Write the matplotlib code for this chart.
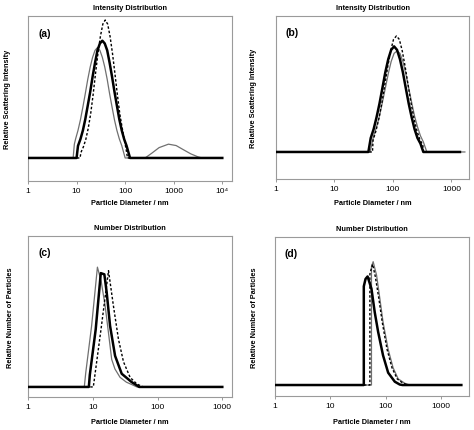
import matplotlib
matplotlib.use("Agg")
import matplotlib.pyplot as plt

plt.rcParams['font.family'] = ['Liberation Sans', 'DejaVu Sans']

# ---- (a) intensity distribution (dashed peak = 100)
a_thick_d = [1, 10, 10.7, 12.0, 13.5, 15.1, 17.0, 19.1, 21.4, 24.0, 26.9, 30.2, 33.9, 38.0, 42.7,
             47.9, 53.7, 60.3, 67.6, 75.9, 85.1, 95.5, 107, 126, 10000]
a_thick_y = [0, 0, 8.8, 13.6, 20, 28, 38, 48, 59, 69, 78, 83, 85, 83, 78,
             69, 59, 48, 38, 28, 20, 13.6, 8.8, 0, 0]
a_dash_d = [1, 11.8, 12.3, 13.8, 15.5, 17.4, 19.5, 21.9, 24.5, 27.5, 30.9, 34.7, 38.9, 43.7, 49,
            55.0, 61.7, 69.2, 77.6, 87.1, 97.7, 105, 112, 10000]
a_dash_y = [0, 0, 4, 8, 13.5, 21.6, 32, 45.8, 61, 75.5, 88, 97, 100, 97, 88,
            75.5, 61, 45.8, 32, 21.6, 12, 6, 0, 0]
a_thin_d = [1, 8.5, 9.0, 9.55, 10.7, 12.0, 13.5, 15.1, 17.0, 19.1, 21.4, 24.0, 26.9, 30.2, 33.9,
            38.0, 42.7, 47.9, 53.7, 60.3, 67.6, 75.9, 85.1, 100,
            258, 355, 500, 780, 1120, 1580, 2240, 3160, 3800, 10000]
a_thin_y = [0, 0, 10, 13.8, 20, 27.6, 37, 46.5, 57, 66, 73, 78, 80, 78, 73,
            66, 57, 46.5, 37, 27.6, 20, 13.8, 9, 0,
            0, 3.5, 7.5, 10, 9, 6, 3, 0.8, 0, 0]

# ---- (b) intensity distribution
b_thick_d = [1, 38, 41.7, 46.8, 52.5, 58.9, 66, 74.1, 83.2, 93.3, 104.7, 117.5, 131.8, 147.9,
             166, 186.2, 209, 234.4, 263, 295.1, 331, 1400]
b_thick_y = [0, 0, 12, 19.7, 30, 41.7, 55, 68.7, 80, 88, 91, 88, 80, 68.7,
             55, 41.7, 30, 19.7, 12, 7.3, 0, 0]
b_dash_d = [1, 44.7, 45.7, 51.3, 57.5, 64.6, 72.4, 81.3, 91.2, 102.3, 114.8, 128.8, 144.5, 162.2,
            182, 204.2, 229, 257.0, 288, 323.6, 335, 1400]
b_dash_y = [0, 0, 10, 18.3, 28.8, 42.1, 57.5, 73.2, 87, 97, 100, 97, 87, 73.2,
            57.5, 42.1, 28.8, 18.3, 10.9, 6, 0, 0]
b_thin_d = [1, 40.7, 46.8, 52.5, 58.9, 66.1, 74.1, 83.2, 93.3, 104.7, 117.5, 131.8, 148, 166,
            186, 208.9, 234, 263, 295, 331.1, 380, 1700]
b_thin_y = [0, 0, 14, 21.7, 31, 42.8, 55, 67.4, 78, 85, 87, 85, 78, 67.4,
            55, 42.8, 31, 21.7, 14, 8.7, 0, 0]

# ---- (c) number distribution (thin peak = 100)
c_thick_d = [1, 8.7, 9.0, 11.1, 13.3, 15.1, 16.4, 18.5, 22.1, 28, 40, 48, 52, 1000]
c_thick_y = [0, 0, 10, 48, 95, 94, 79, 51, 26, 11, 4, 1.3, 0, 0]
c_dash_d = [1, 10.2, 13.4, 17.5, 20.8, 24.9, 29.8, 37.7, 47.8, 60, 1000]
c_dash_y = [0, 0, 48, 97, 68, 40, 21, 8, 2.5, 0, 0]
c_thin_d = [1, 7.4, 7.8, 9.6, 11.8, 13.5, 15.5, 17.5, 19.6, 22, 26.4, 33, 40, 48, 1000]
c_thin_y = [0, 0, 12, 51, 100, 88, 68, 45, 23, 15, 8, 4, 2, 0, 0]

# ---- (d) number distribution (thin peak = 100)
d_thick_d = [1, 40, 40, 43, 46.8, 55, 63, 72.6, 89, 110, 145, 178, 200, 2300]
d_thick_y = [0, 0, 80, 86, 88, 78, 59, 43, 24, 10, 2.7, 0.4, 0, 0]
d_dash_d = [1, 51.5, 51.5, 57.5, 64.5, 74.8, 86, 105, 129, 160, 205, 250, 2300]
d_dash_y = [0, 0, 90, 98, 88, 70, 51, 29, 14, 5, 1.4, 0, 0]
d_thin_d = [1, 55, 55, 59, 68, 78, 89, 110, 135, 167, 220, 270, 2300]
d_thin_y = [0, 0, 96, 100, 89, 70, 51, 29, 14, 5, 1.4, 0, 0]

a_ticks = [1, 10, 100, 1000, 10000]
a_ticklabels = ['1', '10', '100', '1000', '10\u2074']
bcd_ticks = [1, 10, 100, 1000]
bcd_ticklabels = ['1', '10', '100', '1000']

W, H = 474, 431
fig = plt.figure(figsize=(W / 100, H / 100), dpi=100)


def px_axes(x0, y0, x1, y1):
    # pixel box (left, top, right, bottom) -> figure axes
    return fig.add_axes([x0 / W, 1 - y1 / H, (x1 - x0) / W, (y1 - y0) / H])


def panel(ax, curves, xlim, ylim, ticks, ticklabels, title, ylabel, tag, xlab_y, ylab_x):
    thick, dash, thin = curves
    ax.plot(*thin, color='#707070', lw=0.9, zorder=2)
    ax.plot(*dash, color='black', lw=1.0, ls=(0, (1.8, 1.4)), zorder=3)
    ax.plot(*thick, color='black', lw=1.8, zorder=4)
    ax.set_xscale('log')
    ax.set_xlim(*xlim)
    ax.set_ylim(*ylim)
    ax.set_xticks(ticks)
    ax.set_xticklabels(ticklabels)
    ax.minorticks_off()
    ax.set_yticks([])
    ax.tick_params(axis='x', length=2, width=0.6, color='#888888', pad=2.5, labelsize=6)
    for s in ax.spines.values():
        s.set_color('#9a9a9a')
        s.set_linewidth(0.8)
    ax.set_title(title, fontsize=5.3, fontweight='bold', pad=5)
    ax.set_xlabel('Particle Diameter / nm', fontsize=5.3, fontweight='bold')
    ax.set_ylabel(ylabel, fontsize=5.3, fontweight='bold')
    ax.xaxis.set_label_coords(0.5, xlab_y)
    ax.yaxis.set_label_coords(ylab_x, 0.5)
    ax.text(0.05, 0.93, tag, transform=ax.transAxes, fontsize=7.5, fontweight='bold',
            ha='left', va='top')


ax_a = px_axes(28, 17, 232, 182)
panel(ax_a, ((a_thick_d, a_thick_y), (a_dash_d, a_dash_y), (a_thin_d, a_thin_y)),
      (1, 10 ** 4.2), (-16.7, 102.9), a_ticks, a_ticklabels,
      'Intensity Distribution', 'Relative Scattering Intensity', '(a)', -0.109, -0.081)

ax_b = px_axes(276, 17, 469, 180)
panel(ax_b, ((b_thick_d, b_thick_y), (b_dash_d, b_dash_y), (b_thin_d, b_thin_y)),
      (1, 2000), (-23.3, 117.2), bcd_ticks, bcd_ticklabels,
      'Intensity Distribution', 'Relative Scattering Intensity', '(b)', -0.123, -0.101)

ax_c = px_axes(28, 237, 232, 398)
panel(ax_c, ((c_thick_d, c_thick_y), (c_dash_d, c_dash_y), (c_thin_d, c_thin_y)),
      (1, 10 ** 3.15), (-8.4, 126), bcd_ticks, bcd_ticklabels,
      'Number Distribution', 'Relative Number of Particles', '(c)', -0.130, -0.071)

ax_d = px_axes(275, 238, 469, 397)
panel(ax_d, ((d_thick_d, d_thick_y), (d_dash_d, d_dash_y), (d_thin_d, d_thin_y)),
      (1, 10 ** 3.5), (-8.9, 120), bcd_ticks, bcd_ticklabels,
      'Number Distribution', 'Relative Number of Particles', '(d)', -0.138, -0.090)

fig.savefig('out.png', dpi=100)
